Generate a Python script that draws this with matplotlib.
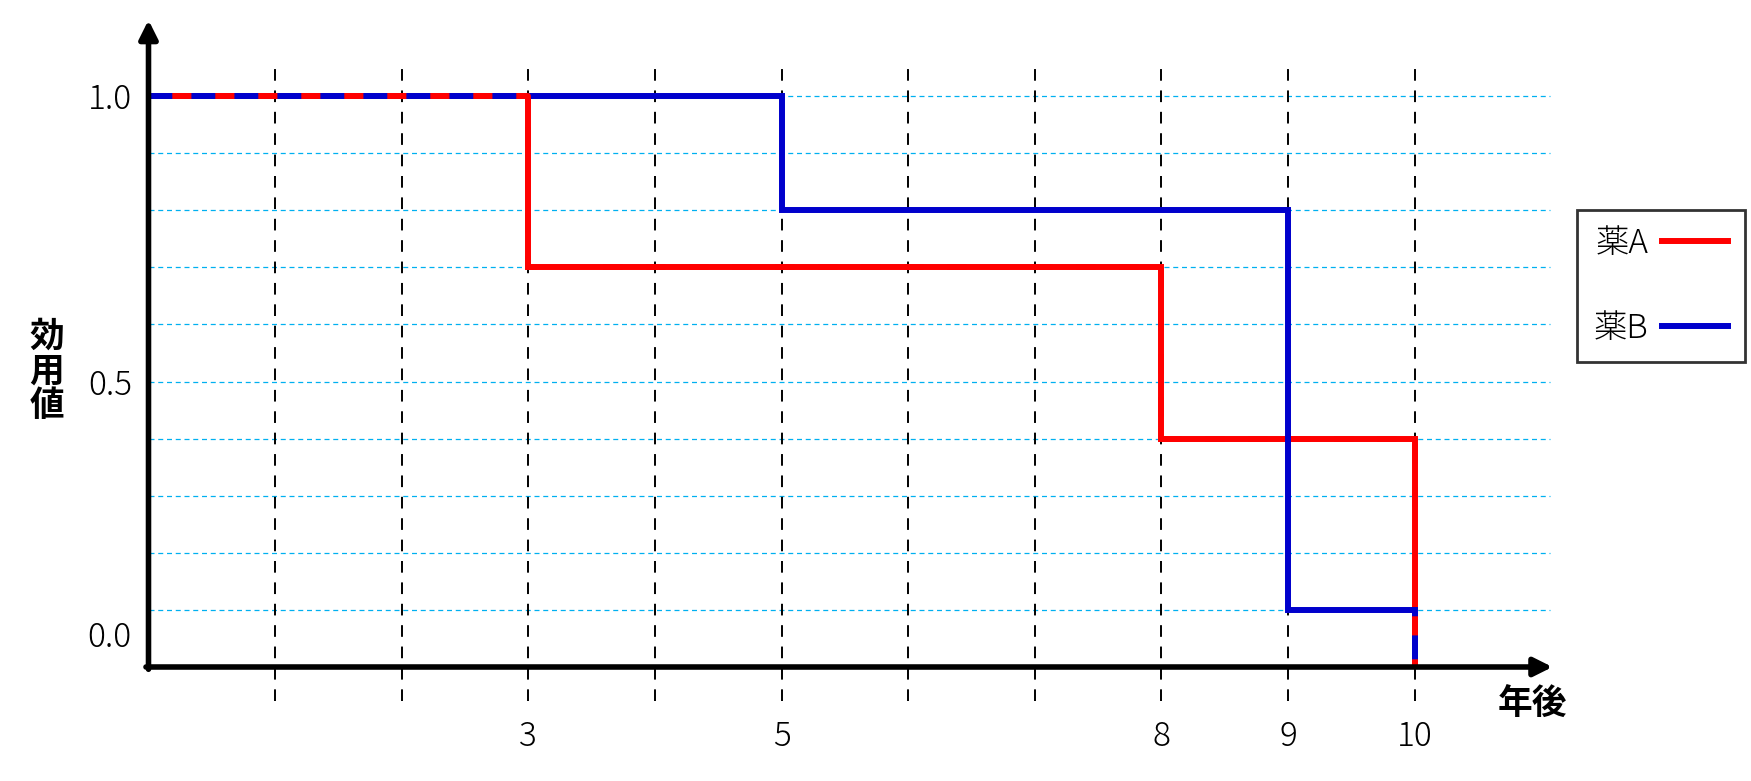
import matplotlib.pyplot as plt

plt.rcParams['font.family'] = ['Noto Sans CJK JP', 'DejaVu Sans']

# ── Data ──────────────────────────────────────────────────────────────────────
years_a = [0, 3, 8, 10]
util_a = [1.0, 0.7, 0.4, 0.0]
years_b = [0, 5, 9, 10]
util_b = [1.0, 0.8, 0.1, 0.0]
labels = ['薬A', '薬B']

xtick_pos = [3, 5, 8, 9, 10]
xtick_labels = ['3', '5', '8', '9', '10']
ytick_pos = [1.0, 0.5, 0.058]
ytick_labels = ['1.0', '0.5', '0.0']
grid_y = [0.1, 0.2, 0.3, 0.4, 0.5, 0.6, 0.7, 0.8, 0.9, 1.0]
grid_x = [1, 2, 3, 4, 5, 6, 7, 8, 9, 10]

RED = '#ff0000'
BLUE = '#0000cc'
GRID = '#00b0f0'

# ── Layout (pixel mapping) ────────────────────────────────────────────────────
W, H = 1751, 781
X0, UX = 148.5, 126.6     # px of x=0, px per year
Y0, UY = 667.0, 571.0     # px of y=0, px per unit
XMAX, YMAX = 12.0, 1.16

fig = plt.figure(figsize=(W / 100, H / 100), dpi=100)
ax = fig.add_axes([X0 / W, (H - Y0) / H, XMAX * UX / W, YMAX * UY / H])
ax.set_xlim(0, XMAX)
ax.set_ylim(0, YMAX)
for s in ax.spines.values():
    s.set_visible(False)


def step_xy(xs, ys):
    px, py = [], []
    for i, (x, y) in enumerate(zip(xs, ys)):
        if i > 0:
            px.append(x)
            py.append(ys[i - 1])
        px.append(x)
        py.append(y)
    return px, py


# grid
for gy in grid_y:
    ax.plot([0, 11.07], [gy, gy], color=GRID, lw=0.9, ls=(0, (4, 3)), zorder=1)
for gx in grid_x:
    ax.plot([gx, gx], [-0.06, 1.05], color='black', lw=1.4, ls=(0, (6, 5)),
            zorder=1, clip_on=False)

# curves
ax_, ay_ = step_xy(years_a, util_a)
bx_, by_ = step_xy(years_b, util_b)
line_a, = ax.plot(ax_, ay_, color=RED, lw=4.3, zorder=3, solid_joinstyle='miter',
                  label=labels[0])
line_b, = ax.plot(bx_, by_, color=BLUE, lw=4.3, zorder=4, solid_joinstyle='miter',
                  label=labels[1])
# red dashes over blue where both drugs share the same path
ax.plot(ax_, ay_, color=RED, lw=4.3, zorder=5, ls=(3.3, (3.2, 4.0)),
        dash_capstyle='butt')

# axes arrows
ax.annotate('', xy=(0, 1.133), xytext=(0, -0.004),
            arrowprops=dict(arrowstyle='-|>,head_width=0.55,head_length=1.1',
                            color='black', lw=4, shrinkA=0, shrinkB=0), zorder=6)
ax.annotate('', xy=(11.09, 0), xytext=(-0.02, 0),
            arrowprops=dict(arrowstyle='-|>,head_width=0.55,head_length=1.1',
                            color='black', lw=4, shrinkA=0, shrinkB=0), zorder=6)

# ticks
ax.set_xticks(xtick_pos, xtick_labels)
ax.set_yticks(ytick_pos, ytick_labels)
ax.tick_params(axis='x', length=0, pad=38, labelsize=24)
ax.tick_params(axis='y', length=0, pad=12, labelsize=24)
for t in ax.get_xticklabels() + ax.get_yticklabels():
    t.set_fontweight('light')

# axis titles
ax.text(10.93, -0.066, '年後', fontsize=25, fontweight='bold', ha='center',
        va='center')
ax.set_ylabel('効\n用\n値', rotation=0, fontsize=25, fontweight='bold',
              linespacing=1.0, va='center', ha='center')
ax.yaxis.set_label_coords(-0.0668, 0.447)

# legend
leg = fig.legend(handles=[line_a, line_b], loc='upper left',
                 bbox_to_anchor=(1577 / W, 1 - 210 / H), markerfirst=False,
                 prop={'size': 24, 'weight': 'light'}, frameon=True,
                 fancybox=False, edgecolor='black',
                 handlelength=2.0, labelspacing=1.5, borderpad=0.5,
                 handletextpad=0.4, borderaxespad=0)
leg.get_frame().set_linewidth(2)

fig.savefig('out.png', dpi=100)
